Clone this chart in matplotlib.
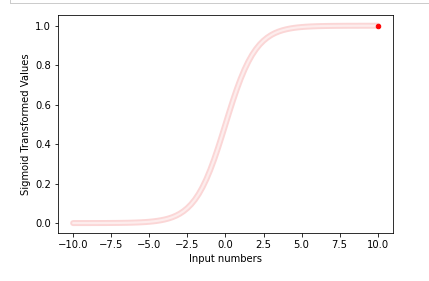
import matplotlib
matplotlib.use("Agg")
import matplotlib.pyplot as plt
from matplotlib.lines import Line2D

x_vals = [-10.0, -9.75, -9.5, -9.25, -9.0, -8.75, -8.5, -8.25, -8.0, -7.75, -7.5, -7.25, -7.0,
          -6.75, -6.5, -6.25, -6.0, -5.75, -5.5, -5.25, -5.0, -4.75, -4.5, -4.25, -4.0,
          -3.75, -3.5, -3.25, -3.0, -2.75, -2.5, -2.25, -2.0, -1.75, -1.5, -1.25, -1.0,
          -0.75, -0.5, -0.25, 0.0, 0.25, 0.5, 0.75, 1.0, 1.25, 1.5, 1.75, 2.0, 2.25, 2.5,
          2.75, 3.0, 3.25, 3.5, 3.75, 4.0, 4.25, 4.5, 4.75, 5.0, 5.25, 5.5, 5.75, 6.0,
          6.25, 6.5, 6.75, 7.0, 7.25, 7.5, 7.75, 8.0, 8.25, 8.5, 8.75, 9.0, 9.25, 9.5,
          9.75, 10.0]
y_vals = [0.0000, 0.0001, 0.0001, 0.0001, 0.0001, 0.0002, 0.0002, 0.0003, 0.0003, 0.0004,
          0.0006, 0.0007, 0.0009, 0.0012, 0.0015, 0.0019, 0.0025, 0.0032, 0.0041, 0.0052,
          0.0067, 0.0086, 0.0110, 0.0141, 0.0180, 0.0230, 0.0293, 0.0373, 0.0474, 0.0601,
          0.0759, 0.0953, 0.1192, 0.1480, 0.1824, 0.2227, 0.2689, 0.3208, 0.3775, 0.4378,
          0.5000, 0.5622, 0.6225, 0.6792, 0.7311, 0.7773, 0.8176, 0.8520, 0.8808, 0.9047,
          0.9241, 0.9399, 0.9526, 0.9627, 0.9707, 0.9770, 0.9820, 0.9859, 0.9890, 0.9914,
          0.9933, 0.9948, 0.9959, 0.9968, 0.9975, 0.9981, 0.9985, 0.9988, 0.9991, 0.9993,
          0.9994, 0.9996, 0.9997, 0.9997, 0.9998, 0.9998, 0.9999, 0.9999, 0.9999, 0.9999,
          1.0000]
last_x = [10.0]
last_y = [1.0]

fig = plt.figure(figsize=(429 / 72, 281 / 72), dpi=72)
ax = fig.add_axes([0.135, 0.171, 0.781, 0.774])

ax.plot(x_vals, y_vals, color="#fbd6d6", lw=6, solid_capstyle="round")
ax.plot(x_vals, y_vals, color="#fdeded", lw=2.2, solid_capstyle="round")
ax.plot(last_x, last_y, "o", color="red", markersize=4.5)

ax.set_xlim(-11, 11)
ax.set_ylim(-0.05, 1.052)
ax.set_xticks([-10.0, -7.5, -5.0, -2.5, 0.0, 2.5, 5.0, 7.5, 10.0])
ax.set_yticks([0.0, 0.2, 0.4, 0.6, 0.8, 1.0])
ax.tick_params(labelsize=10)
ax.set_xlabel("Input numbers", fontsize=10)
ax.set_ylabel("Sigmoid Transformed Values", fontsize=10)

fig.add_artist(Line2D([10 / 429, 1], [1 - 2.5 / 281, 1 - 2.5 / 281],
                      transform=fig.transFigure, color="#cccccc", lw=1))
fig.add_artist(Line2D([10 / 429, 10 / 429], [1 - 2.5 / 281, 1],
                      transform=fig.transFigure, color="#cccccc", lw=1))

fig.savefig("out.png", dpi=72)
